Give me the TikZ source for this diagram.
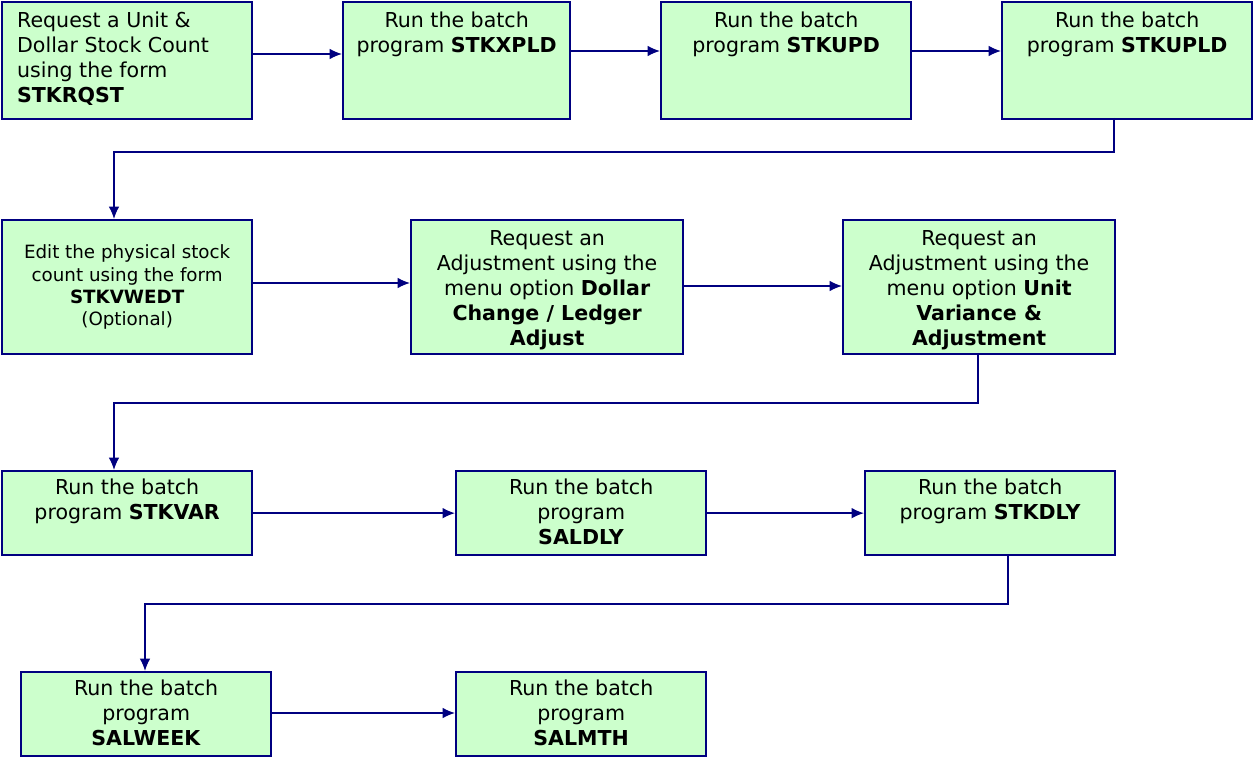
\documentclass[tikz,border=0pt]{standalone}
\usepackage{fontspec}
\setmainfont{DejaVu Sans}
\usetikzlibrary{arrows.meta, positioning}
\newdimen\px \px=0.02cm
\definecolor{boxfill}{HTML}{CCFFCC}
\definecolor{navy}{HTML}{000080}
% box content: width, height, inner position, text
\newcommand{\bx}[4]{\parbox[c][#2\px][#3]{#1\px}{\centering #4}}
\tikzset{
  stepbox/.style = {rectangle, draw=navy, fill=boxfill, line width=1.3pt, inner sep=0pt, anchor=north west,
                 font=\fontsize{11.7}{14.2}\selectfont},
  link/.style = {-{Latex[length=7pt,width=6pt]}, draw=navy, line width=0.8pt},
}
\begin{document}
\begin{tikzpicture}[x=0.02cm, y=-0.02cm]
  \useasboundingbox (0,0) rectangle (1253,766);
  % row 1
  \node (rqst) [stepbox] at (1,1) {\bx{250}{117}{t}{\raggedright\vspace*{10\px}\hspace*{15\px}\parbox[t]{230\px}{\raggedright Request a Unit \&\\ Dollar Stock Count\\ using the form\\ \textbf{STKRQST}}}};
  \node (xpld) [stepbox] at (342,1) {\bx{227}{117}{t}{\vspace*{10\px}Run the batch\\ program \textbf{STKXPLD}}};
  \node (upd)  [stepbox] at (660,1) {\bx{250}{117}{t}{\vspace*{10\px}Run the batch\\ program \textbf{STKUPD}}};
  \node (upld) [stepbox] at (1001,1) {\bx{250}{117}{t}{\vspace*{10\px}Run the batch\\ program \textbf{STKUPLD}}};
  % row 2
  \node (vwedt) [stepbox, font=\fontsize{10.4}{12.6}\selectfont] at (1,219) {\bx{250}{134}{c}{Edit the physical stock\\ count using the form\\ \textbf{STKVWEDT}\\ (Optional)}};
  \node (dolr) [stepbox] at (410,219) {\bx{272}{134}{c}{\vspace*{6\px}Request an\\ Adjustment using the\\ menu option \textbf{Dollar\\ Change / Ledger\\ Adjust}}};
  \node (unit) [stepbox] at (842,219) {\bx{272}{134}{c}{\vspace*{6\px}Request an\\ Adjustment using the\\ menu option \textbf{Unit\\ Variance \&\\ Adjustment}}};
  % row 3
  \node (var)  [stepbox] at (1,470) {\bx{250}{84}{t}{\vspace*{8\px}Run the batch\\ program \textbf{STKVAR}}};
  \node (sdly) [stepbox] at (455,470) {\bx{250}{84}{t}{\vspace*{8\px}Run the batch\\ program\\ \textbf{SALDLY}}};
  \node (kdly) [stepbox] at (864,470) {\bx{250}{84}{t}{\vspace*{8\px}Run the batch\\ program \textbf{STKDLY}}};
  % row 4
  \node (week) [stepbox] at (20,671) {\bx{250}{84}{t}{\vspace*{8\px}Run the batch\\ program\\ \textbf{SALWEEK}}};
  \node (mth)  [stepbox] at (455,671) {\bx{250}{84}{t}{\vspace*{8\px}Run the batch\\ program\\ \textbf{SALMTH}}};
  % turn points
  \coordinate (t1) at (1114,118);
  \coordinate (t2) at (978,353);
  \coordinate (t3) at (1008,554);
  % connectors
  \draw [link] (rqst.east |- 0,54) -- (xpld.west |- 0,54);
  \draw [link] (xpld.east |- 0,51) -- (upd.west |- 0,51);
  \draw [link] (upd.east |- 0,51) -- (upld.west |- 0,51);
  \draw [link] (t1) -- (1114,152) -| (vwedt.north west -| 114,0);
  \draw [link] (vwedt.east |- 0,283) -- (dolr.west |- 0,283);
  \draw [link] (dolr.east |- 0,286) -- (unit.west |- 0,286);
  \draw [link] (t2) -- (978,403) -| (var.north west -| 114,0);
  \draw [link] (var) -- (sdly);
  \draw [link] (sdly) -- (kdly);
  \draw [link] (t3) -- (1008,604) -| (week.north west -| 145,0);
  \draw [link] (week.east |- 0,713) -- (mth.west |- 0,713);
\end{tikzpicture}
\end{document}
